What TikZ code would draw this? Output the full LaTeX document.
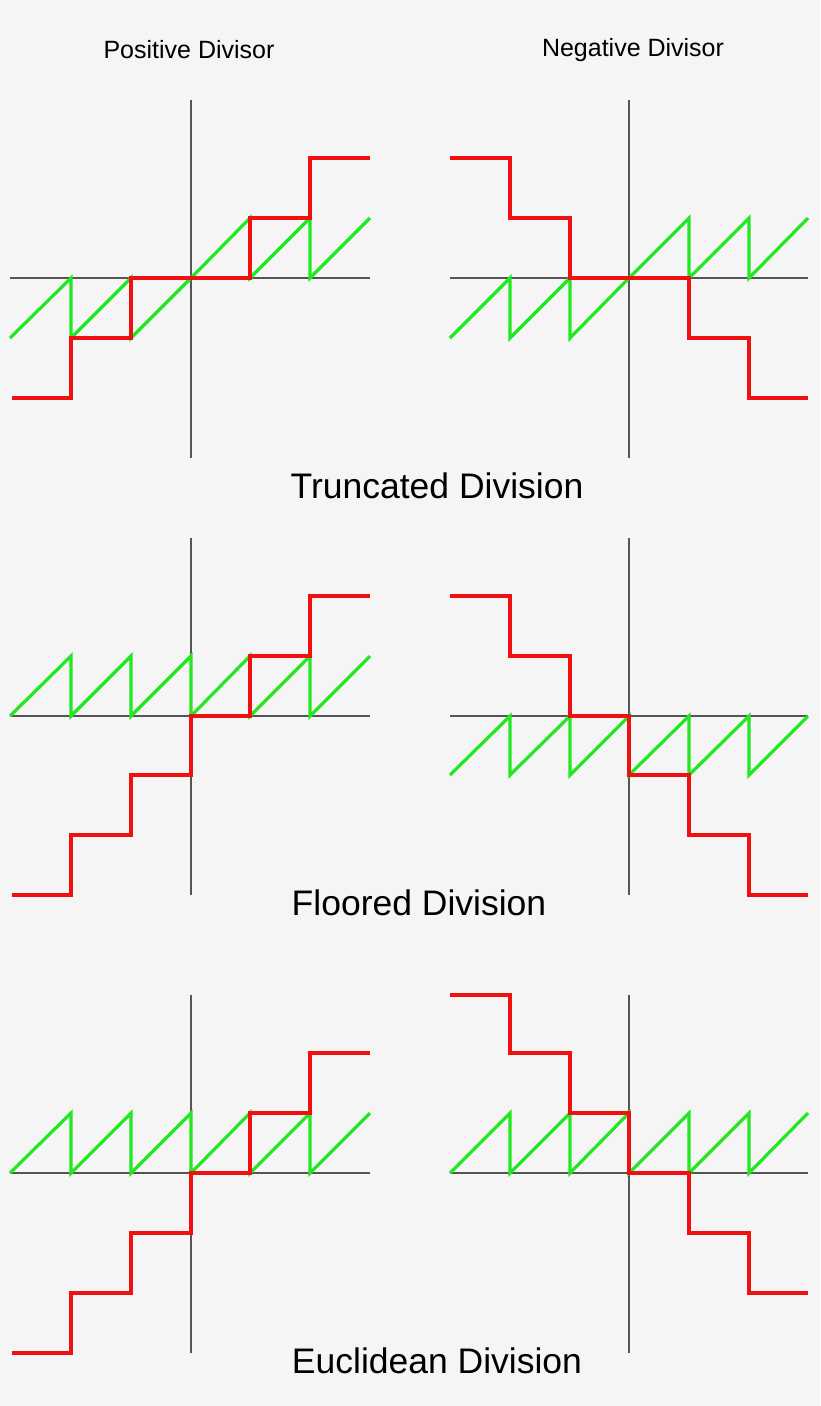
\documentclass[tikz,border=0pt]{standalone}
\usepackage{fontspec}
\setmainfont{Liberation Sans}
\definecolor{bg}{HTML}{F5F5F5}
\definecolor{grn}{HTML}{22E822}
\definecolor{rd}{HTML}{F01010}
\definecolor{ax}{HTML}{555555}
\begin{document}
\begin{tikzpicture}[x=1pt,y=-1pt,
  axis/.style={draw=ax,line width=1.2pt},
  saw/.style={draw=grn,line width=3.2pt,line join=miter},
  quot/.style={draw=rd,line width=3.2pt,line join=miter},
  head/.style={font=\fontsize{25}{30}\selectfont},
  title/.style={font=\fontsize{35.5}{40}\selectfont}]
\fill[bg] (0,0) rectangle (820,1406);
\useasboundingbox (0,0) rectangle (820,1406);
\node[head] (pos) at (189,50) {Positive Divisor};
\node[head] (neg) at (633,50) {Negative Divisor};
\node[title] (trunc) at (437,486) {Truncated Division};
\node[title] (floor) at (419,903) {Floored Division};
\node[title] (eucl) at (437,1361) {Euclidean Division};
% axes
\foreach \y/\t/\b in {278/100/458, 716/538/895, 1173/995/1353}{
  \draw[axis] (10,\y) -- (370,\y); \draw[axis] (191,\t) -- (191,\b);
  \draw[axis] (450,\y) -- (808,\y); \draw[axis] (629,\t) -- (629,\b);
}
% Truncated
\draw[saw] (10,338)--(71,278)--(71,338)--(131,278)--(131,338)--(191,278)--(250,218)--(250,278)--(310,218)--(310,278)--(370,218);
\draw[quot] (12,398)--(71,398)--(71,338)--(131,338)--(131,278)--(250,278)--(250,218)--(310,218)--(310,158)--(370,158);
\draw[saw] (450,338)--(510,278)--(510,338)--(570,278)--(570,338)--(629,278)--(689,218)--(689,278)--(749,218)--(749,278)--(808,218);
\draw[quot] (450,158)--(510,158)--(510,218)--(570,218)--(570,278)--(689,278)--(689,338)--(749,338)--(749,398)--(808,398);
% Floored
\draw[saw] (10,716)--(71,656)--(71,716)--(131,656)--(131,716)--(191,656)--(191,716)--(250,656)--(250,716)--(310,656)--(310,716)--(370,656);
\draw[quot] (12,895)--(71,895)--(71,835)--(131,835)--(131,775)--(191,775)--(191,716)--(250,716)--(250,656)--(310,656)--(310,596)--(370,596);
\draw[saw] (450,775)--(510,716)--(510,775)--(570,716)--(570,775)--(629,716)--(629,775)--(689,716)--(689,775)--(749,716)--(749,775)--(808,716);
\draw[quot] (450,596)--(510,596)--(510,656)--(570,656)--(570,716)--(629,716)--(629,775)--(689,775)--(689,835)--(749,835)--(749,895)--(808,895);
% Euclidean
\draw[saw] (10,1173)--(71,1113)--(71,1173)--(131,1113)--(131,1173)--(191,1113)--(191,1173)--(250,1113)--(250,1173)--(310,1113)--(310,1173)--(370,1113);
\draw[quot] (12,1353)--(71,1353)--(71,1293)--(131,1293)--(131,1233)--(191,1233)--(191,1173)--(250,1173)--(250,1113)--(310,1113)--(310,1053)--(370,1053);
\draw[saw] (450,1173)--(510,1113)--(510,1173)--(570,1113)--(570,1173)--(629,1113)--(629,1173)--(689,1113)--(689,1173)--(749,1113)--(749,1173)--(808,1113);
\draw[quot] (450,995)--(510,995)--(510,1053)--(570,1053)--(570,1113)--(629,1113)--(629,1173)--(689,1173)--(689,1233)--(749,1233)--(749,1293)--(808,1293);
\end{tikzpicture}
\end{document}
